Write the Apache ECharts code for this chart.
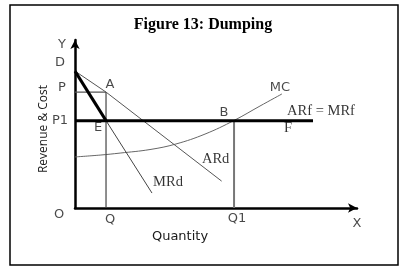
<!DOCTYPE html>
<html><head><meta charset="utf-8">
<script src="https://cdn.jsdelivr.net/npm/echarts@6/dist/echarts.min.js"></script>
<style>html,body{margin:0;padding:0;background:#fff}#c{width:406px;height:273px}</style>
</head><body><div id="c"></div>
<script>
// ---- data (quantity 0..100, revenue/cost 0..100) ----
const titleText = 'Figure 13: Dumping';
const xName = 'Quantity';
const yName = 'Revenue & Cost';
const Q = 11, Q1 = 56.4;
const Dval = 81.5, Pval = 69, P1val = 52;
const ardX = [0, 11, 52];
const ardY = [81.5, 69, 16];
const mrdX = [0, 11, 27.3];
const mrdY = [81.5, 52, 8.9];
const mcX = [0, 8.9, 16, 26.6, 35.8, 46.1, 56.4, 65.6, 73.4];
const mcY = [30.4, 31.5, 32.7, 34.8, 38.1, 44.0, 52.1, 60.7, 67.9];
const arfX = [0, 84.4];
const arfY = [52, 52];
const xTickNames = ['O', 'Q', 'Q1', 'X'];
const xTickVals = [0, Q, Q1, 100];
const yTickNames = ['Y', 'D', 'P', 'P1'];
const yTickVals = [100, Dval, Pval, P1val];
const pointNames = ['A', 'E', 'B', 'F'];
const pointX = [Q, Q, Q1, 84.4];
const pointY = [Pval, P1val, P1val, P1val];
const curveLabels = ['ARd', 'MRd', 'MC', 'ARf = MRf'];

const zip = (xs, ys) => xs.map((x, i) => [x, ys[i]]);

// ---- styles ----
const sans = 'DejaVu Sans';
const serif = 'Liberation Serif';
const offs = {
  'O': [-16, 7], 'Q': [4, 12], 'Q1': [3, 11], 'X': [0, 16],
  'Y': [-13, 5], 'D': [-15, -8], 'P': [-13, -4], 'P1': [-15, 0],
  'A': [4, -7], 'E': [-8, 7], 'B': [-10, -8], 'F': [-25, 8],
  'ARd': [-6, -22], 'MRd': [16, -11], 'MC': [-2, -6], 'ARf = MRf': [8, -9]
};
const serifSet = new Set(['F', 'ARd', 'MRd', 'ARf = MRf']);

const labelItems = [];
xTickNames.forEach((n, i) => labelItems.push({ name: n, value: [xTickVals[i], 0] }));
yTickNames.forEach((n, i) => labelItems.push({ name: n, value: [0, yTickVals[i]] }));
pointNames.forEach((n, i) => labelItems.push({ name: n, value: [pointX[i], pointY[i]] }));
const curveEnds = [
  [ardX[ardX.length - 1], ardY[ardY.length - 1]],
  [mrdX[mrdX.length - 1], mrdY[mrdY.length - 1]],
  [mcX[mcX.length - 1], mcY[mcY.length - 1]],
  [arfX[arfX.length - 1], arfY[arfY.length - 1]]
];
curveLabels.forEach((n, i) => labelItems.push({ name: n, value: curveEnds[i] }));
labelItems.forEach(it => {
  const isSerif = serifSet.has(it.name);
  it.label = {
    offset: offs[it.name],
    fontFamily: isSerif ? serif : sans,
    fontSize: isSerif ? 14.5 : 13,
    color: isSerif ? '#000' : '#1a1a1a'
  };
});

function lineSeries(data, color, width, smooth) {
  return {
    type: 'line', data, symbol: 'none', smooth: smooth || false,
    lineStyle: { color, width }, silent: true, animation: false
  };
}

const chart = echarts.init(document.getElementById('c'));
chart.setOption({
  animation: false,
  title: {
    text: titleText, left: 'center', top: 12,
    textStyle: { fontFamily: serif, fontWeight: 'bold', fontSize: 16, color: '#000' }
  },
  graphic: [{
    type: 'rect', shape: { x: 10, y: 5, width: 388, height: 260 },
    style: { fill: 'none', stroke: '#000', lineWidth: 1.5 }, silent: true
  }],
  grid: { left: 75, top: 40, width: 282, height: 168 },
  xAxis: {
    type: 'value', min: 0, max: 100,
    name: xName, nameLocation: 'middle', nameGap: 22,
    nameTextStyle: { fontFamily: sans, fontSize: 13, color: '#1a1a1a', padding: [0, 72, 0, 0] },
    axisLine: { lineStyle: { color: '#000', width: 2.5 }, symbol: ['none', 'arrow'], symbolSize: [7, 9] },
    axisTick: { show: false }, axisLabel: { show: false }, splitLine: { show: false }
  },
  yAxis: {
    type: 'value', min: 0, max: 100,
    name: yName, nameLocation: 'middle', nameGap: 25, nameRotate: 90,
    nameTextStyle: { fontFamily: 'Open Sans', fontSize: 12, color: '#1a1a1a', padding: [0, 10, 0, 0] },
    axisLine: { lineStyle: { color: '#000', width: 2.5 }, symbol: ['none', 'arrow'], symbolSize: [7, 9] },
    axisTick: { show: false }, axisLabel: { show: false }, splitLine: { show: false }
  },
  series: [
    lineSeries(zip(mcX, mcY), '#666', 1, 0.4),
    lineSeries([[0, Pval], [Q, Pval]], '#555', 1.2),
    lineSeries([[Q, 0], [Q, Pval]], '#444', 1.2),
    lineSeries([[Q1, 0], [Q1, P1val]], '#777', 2),
    lineSeries(zip(ardX, ardY), '#555', 1),
    lineSeries(zip(mrdX.slice(1), mrdY.slice(1)), '#444', 1),
    lineSeries(zip(mrdX.slice(0, 2), mrdY.slice(0, 2)), '#000', 3),
    lineSeries(zip(arfX, arfY), '#000', 3),
    {
      type: 'scatter', symbolSize: 0, data: labelItems, silent: true,
      label: { show: true, formatter: '{b}', position: 'inside' }
    }
  ]
});
</script></body></html>
